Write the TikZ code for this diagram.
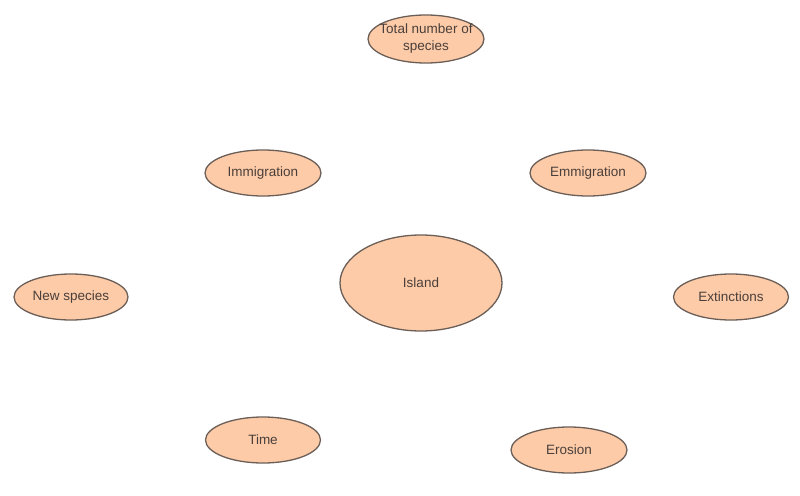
\documentclass[tikz,border=0pt]{standalone}
\usepackage{fontspec}
\setmainfont{Liberation Sans}
\usetikzlibrary{shapes.geometric}
\definecolor{peach}{HTML}{FDCBA8}
\definecolor{rim}{HTML}{6B5E57}
\definecolor{ink}{HTML}{4A3F3A}
\begin{document}
\begin{tikzpicture}[x=1pt, y=-1pt]
    \tikzstyle{factor} = [ellipse, draw=rim, line width=1.3pt, fill=peach, text=ink, minimum width=116pt, minimum height=46pt, inner sep=0pt, align=center, font=\fontsize{13.5}{17}\selectfont]
    \tikzstyle{core} = [factor, minimum width=162pt, minimum height=96pt]

    \useasboundingbox (0,0) rectangle (800,495);

    \node [factor, inner xsep=-8pt, inner ysep=-3pt, minimum height=48pt] (total) at (426,39) {Total number of\\species};
    \node [factor] (immig) at (263,173) {Immigration};
    \node [factor] (emmig) at (588,173) {Emmigration};
    \node [core] (island) at (421,283) {Island};
    \node [factor, minimum width=114pt] (newsp) at (71,297) {New species};
    \node [factor, minimum width=115pt] (extinct) at (731,297) {Extinctions};
    \node [factor, minimum width=115pt] (time) at (263,440) {Time};
    \node [factor] (erosion) at (569,450) {Erosion};
\end{tikzpicture}
\end{document}
